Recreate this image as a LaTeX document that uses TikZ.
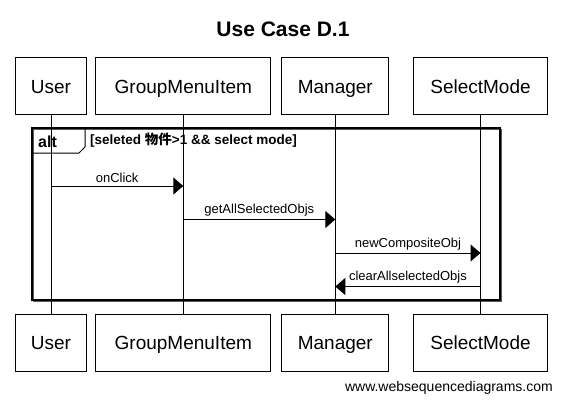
\documentclass[tikz,border=0pt]{standalone}
\usepackage{fontspec}
\setmainfont{Liberation Sans}
\newfontfamily\cjk{Noto Sans CJK SC}
\usetikzlibrary{arrows.meta,positioning}

\begin{document}
\begin{tikzpicture}[x=1pt,y=-1pt,
    actor/.style={draw,line width=1pt,minimum height=57pt,inner sep=0pt,text height=14pt,text depth=0pt,font=\fontsize{19}{22}\selectfont},
    msg/.style={line width=1pt,-{Triangle[length=10pt,width=17pt]}},
    lbl/.style={above=1.5pt,inner sep=1pt,font=\fontsize{13}{15}\selectfont}]
    \useasboundingbox (0,0) rectangle (563,404);
    \node [font=\bfseries\fontsize{21}{24}\selectfont] (title) at (283,29) {Use Case D.1};

    % actors on top
    \node [actor,minimum width=71.4pt] (user1) at (51,86.5) {User};
    \node [actor,minimum width=174.7pt] (gmi1) at (183.3,86.5) {GroupMenuItem};
    \node [actor,minimum width=107pt] (mgr1) at (335.3,86.5) {Manager};
    \node [actor,minimum width=134pt] (sel1) at (480.5,86.5) {SelectMode};

    % and again at the bottom
    \node [actor,minimum width=71.4pt,below=198pt of user1] (user2) {User};
    \node [actor,minimum width=174.7pt,below=198pt of gmi1] (gmi2) {GroupMenuItem};
    \node [actor,minimum width=107pt,below=198pt of mgr1] (mgr2) {Manager};
    \node [actor,minimum width=134pt,below=198pt of sel1] (sel2) {SelectMode};

    % alt frame
    \draw [line width=1.5pt,black!65] (33.5,129.5) rectangle (501.5,301.5);
    \draw [line width=1.5pt] (32,128) rectangle (500,300);
    \draw [line width=1pt] (32,128) -- (85,128) -- (85,147) -- (79,153) -- (32,153);
    \node [anchor=west,inner sep=0pt,font=\bfseries\fontsize{16}{18}\selectfont] (alt) at (38,142) {alt};
    \node [anchor=west,inner sep=0pt,font=\bfseries\fontsize{13.5}{16}\selectfont] (cond) at (90,140)
        {[seleted {\cjk 物件}>1 \&\& select mode]};

    % lifelines
    \draw [line width=1pt] (user1) -- (user2);
    \draw [line width=1pt] (gmi1) -- (gmi2);
    \draw [line width=1pt] (mgr1) -- (mgr2);
    \draw [line width=1pt] (sel1) -- (sel2);

    % messages
    \coordinate (click1) at (user1 |- 0,186);
    \coordinate (click2) at (gmi1 |- 0,186);
    \coordinate (get1) at (gmi1 |- 0,219.5);
    \coordinate (get2) at (mgr1 |- 0,219.5);
    \coordinate (new1) at (mgr1 |- 0,253);
    \coordinate (new2) at (sel1 |- 0,253);
    \coordinate (clear1) at (sel1 |- 0,286.5);
    \coordinate (clear2) at (mgr1 |- 0,286.5);
    \draw [msg] (click1) -- node [lbl] {onClick} (click2);
    \draw [msg] (get1) -- node [lbl] {getAllSelectedObjs} (get2);
    \draw [msg] (new1) -- node [lbl] {newCompositeObj} (new2);
    \draw [msg] (clear1) -- node [lbl] {clearAllselectedObjs} (clear2);

    \node [anchor=east,inner sep=0pt,font=\fontsize{14}{16}\selectfont] (site) at (553,388) {www.websequencediagrams.com};
\end{tikzpicture}
\end{document}
